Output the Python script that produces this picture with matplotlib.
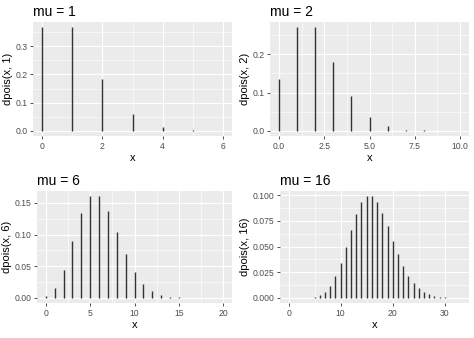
import matplotlib
matplotlib.use("Agg")
import matplotlib.pyplot as plt
from matplotlib.ticker import MultipleLocator, FormatStrFormatter

plt.rcParams["font.family"] = ["Liberation Sans", "DejaVu Sans"]

# Poisson probabilities dpois(x, mu) for each panel
x_mu1 = list(range(0, 7))
p_mu1 = [0.3679, 0.3679, 0.1839, 0.0613, 0.0153, 0.0031, 0.0005]

x_mu2 = list(range(0, 11))
p_mu2 = [0.1353, 0.2707, 0.2707, 0.1804, 0.0902, 0.0361, 0.0120,
         0.0034, 0.0009, 0.0002, 0.00004]

x_mu6 = list(range(0, 21))
p_mu6 = [0.0025, 0.0149, 0.0446, 0.0892, 0.1339, 0.1606, 0.1606,
         0.1377, 0.1033, 0.0688, 0.0413, 0.0225, 0.0113, 0.0052,
         0.0022, 0.0009, 0.0003, 0.0001, 0.00004, 0.00001, 0.000004]

x_mu16 = list(range(0, 34))
p_mu16 = [0.0000001, 0.0000018, 0.0000144, 0.0000768, 0.000307, 0.000983,
          0.00262, 0.00599, 0.01199, 0.02131, 0.03409, 0.04959, 0.06612,
          0.08138, 0.09301, 0.09921, 0.09921, 0.09338, 0.08300, 0.06990,
          0.05592, 0.04260, 0.03099, 0.02156, 0.01437, 0.00920, 0.00566,
          0.00335, 0.00192, 0.00106, 0.000563, 0.000291, 0.000145, 0.0000705]

panels = [
    # title, ylabel, x, p, rect (px: left, top, right, bottom), xstep, ystep, yfmt, xfmt
    ("mu = 1", "dpois(x, 1)", x_mu1, p_mu1, (33, 22, 232, 136), 2, 0.1, "%.1f", "%d"),
    ("mu = 2", "dpois(x, 2)", x_mu2, p_mu2, (270, 22, 469, 136), 2.5, 0.1, "%.1f", "%.1f"),
    ("mu = 6", "dpois(x, 6)", x_mu6, p_mu6, (37, 191, 232, 303), 5, 0.05, "%.2f", "%d"),
    ("mu = 16", "dpois(x, 16)", x_mu16, p_mu16, (280, 191, 469, 303), 10, 0.025, "%.3f", "%d"),
]

W, H = 474, 338
fig = plt.figure(figsize=(W / 100, H / 100), dpi=100)

for title, ylab, xs, ps, (l, t, r, b), xstep, ystep, yfmt, xfmt in panels:
    ax = fig.add_axes([l / W, 1 - b / H, (r - l) / W, (b - t) / H])
    ax.set_facecolor("#EBEBEB")
    ax.vlines(xs, 0, ps, color="#333333", linewidth=1.0, zorder=3)

    xr = max(xs) - min(xs)
    ax.set_xlim(min(xs) - 0.05 * xr, max(xs) + 0.05 * xr)
    yr = max(ps)
    ax.set_ylim(-0.05 * yr, 1.05 * yr)

    ax.xaxis.set_major_locator(MultipleLocator(xstep))
    ax.xaxis.set_minor_locator(MultipleLocator(xstep / 2))
    ax.yaxis.set_major_locator(MultipleLocator(ystep))
    ax.yaxis.set_minor_locator(MultipleLocator(ystep / 2))
    ax.xaxis.set_major_formatter(FormatStrFormatter(xfmt))
    ax.yaxis.set_major_formatter(FormatStrFormatter(yfmt))

    ax.grid(which="major", color="white", linewidth=0.8, zorder=0)
    ax.grid(which="minor", color="white", linewidth=0.4, zorder=0)
    ax.set_axisbelow(True)
    for s in ax.spines.values():
        s.set_visible(False)

    ax.tick_params(which="major", length=2.5, width=0.6, color="#333333",
                   labelsize=6.2, labelcolor="#4D4D4D", pad=1.5)
    ax.tick_params(which="minor", length=0)

    ax.set_xlabel("x", fontsize=8, labelpad=2)
    ax.set_ylabel(ylab, fontsize=8, labelpad=2)
    ax.set_title(title, fontsize=10, loc="left", pad=4)

fig.savefig("out.png", dpi=100)
